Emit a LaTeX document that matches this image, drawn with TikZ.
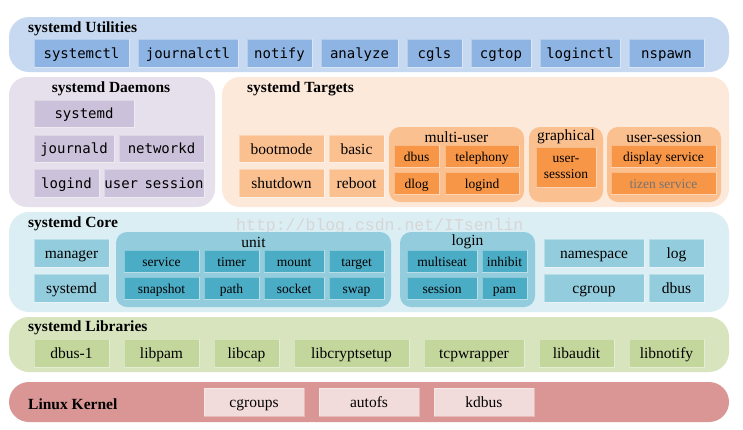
\documentclass[tikz,border=0pt]{standalone}
\usepackage{fontspec}
\setmainfont{Liberation Serif}
\setmonofont{DejaVu Sans Mono}
\newfontfamily\wmfont{Liberation Mono}
\definecolor{utilband}{HTML}{C6D9F1}
\definecolor{utilbox}{HTML}{8EB4E3}
\definecolor{daemband}{HTML}{E6E0EC}
\definecolor{daembox}{HTML}{CCC1DA}
\definecolor{targband}{HTML}{FDE9D9}
\definecolor{targbox}{HTML}{FAC090}
\definecolor{targin}{HTML}{F79646}
\definecolor{coreband}{HTML}{DBEEF4}
\definecolor{corebox}{HTML}{93CDDD}
\definecolor{corein}{HTML}{4BACC6}
\definecolor{libband}{HTML}{D7E4BD}
\definecolor{libbox}{HTML}{C3D69B}
\definecolor{kernband}{HTML}{D99694}
\definecolor{kernbox}{HTML}{F2DCDB}
\newcommand{\mybox}[7]{\node[#6, minimum width={(#4-#2)*1pt}, minimum height={(#5-#3)*1pt}] (#1) at ({(#2+#4)/2},{(#3+#5)/2}) {#7};}
\begin{document}
\begin{tikzpicture}[x=1pt,y=-1pt,
  base/.style={rectangle, inner sep=0pt, outer sep=0pt, align=center},
  band/.style={base, rounded corners=20pt},
  grp/.style={base, rounded corners=11pt},
  edged/.style={base, draw=white, draw opacity=0.35, line width=0.8pt},
  big/.style={font=\fontsize{15.5}{18}\selectfont, text height=12.5pt, text depth=1.5pt},
  small/.style={font=\fontsize{13.5}{15}\selectfont, text height=11.5pt, text depth=1.5pt},
  mono/.style={font=\ttfamily\fontsize{14}{16}\selectfont, text height=12pt, text depth=1.5pt},
  title/.style={inner sep=0pt, anchor=west, font=\bfseries\fontsize{15.5}{18}\selectfont},
  gtitle/.style={inner sep=0pt, font=\fontsize{15.5}{18}\selectfont},
  ubox/.style={edged, fill=utilbox, mono},
  dbox/.style={edged, fill=daembox, mono},
  tbox/.style={edged, fill=targbox, big},
  tin/.style={edged, fill=targin, small},
  cbox/.style={edged, fill=corebox, big},
  cin/.style={edged, fill=corein, small},
  lbox/.style={edged, fill=libbox, big},
  kbox/.style={edged, fill=kernbox, big}]
\useasboundingbox[fill=white] (0,0) rectangle (743,429);

% ---- Utilities
\mybox{utilB}{9}{17}{729}{72}{band, fill=utilband}{}
\node[title] (utilT) at (28,28.5) {systemd Utilities};
\mybox{u1}{34}{39}{129}{67}{ubox}{systemctl}
\mybox{u2}{138}{39}{238}{67}{ubox}{journalctl}
\mybox{u3}{247}{39}{312}{67}{ubox}{notify}
\mybox{u4}{321}{39}{398}{67}{ubox}{analyze}
\mybox{u5}{407}{39}{462}{67}{ubox}{cgls}
\mybox{u6}{471}{39}{531}{67}{ubox}{cgtop}
\mybox{u7}{540}{39}{620}{67}{ubox}{loginctl}
\mybox{u8}{629}{39}{704}{67}{ubox}{nspawn}

% ---- Daemons
\mybox{daemB}{9}{77}{215}{207}{band, fill=daemband, rounded corners=18pt}{}
\node[title, anchor=center] (daemT) at (111,88.5) {systemd Daemons};
\mybox{d1}{34}{100}{134}{127}{dbox}{systemd}
\mybox{d2}{34}{135}{114}{162}{dbox}{journald}
\mybox{d3}{119}{135}{204}{162}{dbox}{networkd}
\mybox{d4}{34}{169}{99}{197}{dbox}{logind}
\mybox{d5}{104}{169}{204}{197}{dbox}{user\hspace{-2pt} session}

% ---- Targets
\mybox{targB}{222}{77}{729}{207}{band, fill=targband, rounded corners=18pt}{}
\node[title] (targT) at (247,88.5) {systemd Targets};
\mybox{t1}{239}{135}{324}{162}{tbox}{bootmode}
\mybox{t2}{329}{135}{384}{162}{tbox}{basic}
\mybox{t3}{239}{169}{324}{197}{tbox}{shutdown}
\mybox{t4}{329}{169}{384}{197}{tbox}{reboot}
\mybox{muG}{389}{127}{524}{202}{grp, fill=targbox}{}
\node[gtitle] (muT) at (456.5,137) {multi-user};
\mybox{m1}{394}{145}{439}{167}{tin}{dbus}
\mybox{m2}{445}{145}{519}{167}{tin}{telephony}
\mybox{m3}{394}{172}{439}{194}{tin}{dlog}
\mybox{m4}{445}{172}{519}{194}{tin}{logind}
\mybox{grG}{529}{127}{603}{202}{grp, fill=targbox}{}
\node[gtitle] (grT) at (566,137) {graphical};
\mybox{g1}{536}{147}{596}{187}{edged, fill=targin, font=\fontsize{13.5}{16}\selectfont}{user-\\sesssion}
\mybox{usG}{607}{127}{721}{202}{grp, fill=targbox}{}
\node[gtitle] (usT) at (664,137) {user-session};
\mybox{s1}{611}{145}{716}{167}{tin}{display service}
\mybox{s2}{611}{172}{716}{194}{tin, text=black!55}{tizen service}

% ---- Core
\mybox{coreB}{9}{212}{729}{312}{band, fill=coreband}{}
\node[title] (coreT) at (28,223.5) {systemd Core};
\node[inner sep=0pt, font=\wmfont\fontsize{16.5}{18}\selectfont, text=black!16, anchor=west] (wm) at (236,226) {http://blog.csdn.net/ITsenlin};
\mybox{c1}{34}{239}{109}{267}{cbox}{manager}
\mybox{c2}{34}{274}{109}{302}{cbox}{systemd}
\mybox{unG}{116}{232}{391}{307}{grp, fill=corebox}{}
\node[gtitle] (unT) at (253.5,242) {unit};
\mybox{n1}{124}{250}{199}{272}{cin}{service}
\mybox{n2}{204}{250}{259}{272}{cin}{timer}
\mybox{n3}{264}{250}{324}{272}{cin}{mount}
\mybox{n4}{329}{250}{384}{272}{cin}{target}
\mybox{n5}{124}{277}{199}{299}{cin}{snapshot}
\mybox{n6}{204}{277}{259}{299}{cin}{path}
\mybox{n7}{264}{277}{324}{299}{cin}{socket}
\mybox{n8}{329}{277}{384}{299}{cin}{swap}
\mybox{loG}{400}{232}{535}{307}{grp, fill=corebox}{}
\node[gtitle] (loT) at (467.5,242) {login};
\mybox{o1}{407}{250}{477}{272}{cin}{multiseat}
\mybox{o2}{482}{250}{527}{272}{cin}{inhibit}
\mybox{o3}{407}{277}{477}{299}{cin}{session}
\mybox{o4}{482}{277}{527}{299}{cin}{pam}
\mybox{c3}{544}{239}{644}{267}{cbox}{namespace}
\mybox{c4}{649}{239}{704}{267}{cbox}{log}
\mybox{c5}{544}{274}{644}{302}{cbox}{cgroup}
\mybox{c6}{649}{274}{704}{302}{cbox}{dbus}

% ---- Libraries
\mybox{libB}{9}{317}{729}{372}{band, fill=libband}{}
\node[title] (libT) at (28,327.5) {systemd Libraries};
\mybox{l1}{34}{339}{109}{367}{lbox}{dbus-1}
\mybox{l2}{124}{339}{199}{367}{lbox}{libpam}
\mybox{l3}{214}{339}{279}{367}{lbox}{libcap}
\mybox{l4}{294}{339}{409}{367}{lbox}{libcryptsetup}
\mybox{l5}{424}{339}{524}{367}{lbox}{tcpwrapper}
\mybox{l6}{539}{339}{614}{367}{lbox}{libaudit}
\mybox{l7}{629}{339}{704}{367}{lbox}{libnotify}

% ---- Kernel
\mybox{kernB}{9}{382}{729}{422}{band, fill=kernband}{}
\node[title] (kernT) at (28,404) {Linux Kernel};
\mybox{k1}{204}{388}{304}{416}{kbox}{cgroups}
\mybox{k2}{319}{388}{419}{416}{kbox}{autofs}
\mybox{k3}{434}{388}{534}{416}{kbox}{kdbus}
\end{tikzpicture}
\end{document}
